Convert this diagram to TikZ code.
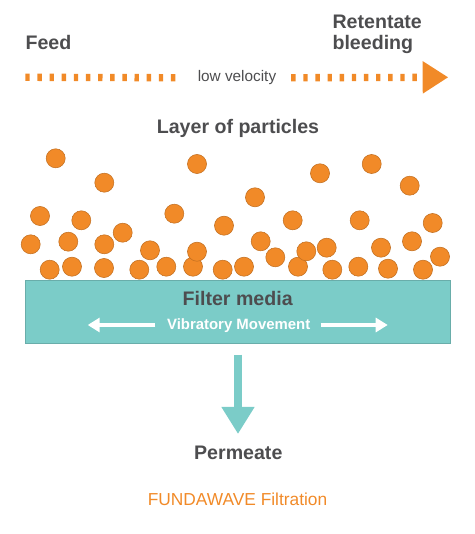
\documentclass[tikz,border=0pt]{standalone}
\usepackage{fontspec}
\setmainfont{Liberation Sans}
\usepackage{tikz}
\usetikzlibrary{arrows.meta}
\usetikzlibrary{positioning}
\definecolor{fundorange}{HTML}{F18A28}
\definecolor{fundteal}{HTML}{7BCCC8}
\definecolor{fundgray}{HTML}{4D4D4F}
\tikzset{
  particle/.style={circle,draw=fundorange!80!black,fill=fundorange,minimum size=14.3pt,inner sep=0pt,line width=0.4pt},
  headtext/.style={font=\fontsize{14.7pt}{17pt}\selectfont\bfseries,text=fundgray,inner sep=0pt},
  flowline/.style={draw=fundorange,line width=5.5pt,dash pattern=on 3.3pt off 5.8pt},
  shakeline/.style={draw=white,line width=2.6pt,-{Triangle[length=9pt,width=10.5pt]}}
}
\begin{document}
\begin{tikzpicture}[x=0.75pt,y=-0.75pt]
\useasboundingbox (0,0) rectangle (474,534);
\node[headtext,anchor=base west](feed) at (25.3,49.5){Feed};
\node[headtext,anchor=base west](reten) at (332.3,28.7){Retentate};
\node[headtext,anchor=base west](bleed) at (332.3,49.3){bleeding};
\node[font=\fontsize{11.5pt}{13pt}\selectfont,text=fundgray,inner sep=0pt,anchor=base](lowvel) at (237,81.7){low velocity};
\coordinate (feedstart) at (25.3,77.3);
\coordinate (retend) at (448.3,77.3);
\draw[flowline] (feedstart) -- ([xshift=-11pt]lowvel.west);
\draw[flowline,-{Triangle[length=19.2pt,width=23pt]}] ([xshift=11pt]lowvel.east) -- (retend);
\node[headtext,anchor=base](layer) at (238,134){Layer of particles};
\node[rectangle,draw=fundteal!85!black,fill=fundteal,minimum width=319pt,minimum height=47pt,inner sep=0pt](filter) at (238,312){};
\node[particle](p1) at (55.7,158.3){};
\node[particle](p2) at (197,164){};
\node[particle](p3) at (104.3,182.7){};
\node[particle](p4) at (320,173.3){};
\node[particle](p5) at (371.7,164){};
\node[particle](p6) at (409.7,185.7){};
\node[particle](p7) at (255,197.3){};
\node[particle](p8) at (40,216){};
\node[particle](p9) at (81.3,220.3){};
\node[particle](p10) at (174.3,213.7){};
\node[particle](p11) at (224,225.7){};
\node[particle](p12) at (292.7,220.3){};
\node[particle](p13) at (359.7,220.3){};
\node[particle](p14) at (432.7,223){};
\node[particle](p15) at (30.7,244.3){};
\node[particle](p16) at (68.3,241.7){};
\node[particle](p17) at (104.3,244.3){};
\node[particle](p18) at (122.7,232.7){};
\node[particle](p19) at (150,250.3){};
\node[particle](p20) at (260.7,241.3){};
\node[particle](p21) at (275.3,257.3){};
\node[particle](p22) at (326.7,247.7){};
\node[particle](p23) at (381,247.7){};
\node[particle](p24) at (412,241.3){};
\node[particle](p25) at (440,256.7){};
\node[particle](p26) at (49.7,269.7){};
\node[particle](p27) at (72,266.7){};
\node[particle](p28) at (104,268){};
\node[particle](p29) at (139.3,269.7){};
\node[particle](p30) at (166.3,266.7){};
\node[particle](p31) at (193,266.7){};
\node[particle](p32) at (197,251.7){};
\node[particle](p33) at (222.7,269.7){};
\node[particle](p34) at (244,266.7){};
\node[particle](p35) at (298,266.7){};
\node[particle](p36) at (306.3,251.3){};
\node[particle](p37) at (332.3,269.7){};
\node[particle](p38) at (358.3,266.7){};
\node[particle](p39) at (388,268.7){};
\node[particle](p40) at (423,269.7){};
\node[headtext,anchor=base](media) at (237.7,305.7){Filter media};
\node[font=\fontsize{11.2pt}{13pt}\selectfont\bfseries,text=white,inner sep=0pt,anchor=base](vib) at (238.7,329.3){Vibratory Movement};
\coordinate (vibleft) at (87.7,325);
\coordinate (vibright) at (387.7,325);
\draw[shakeline] ([xshift=-8.5pt]vib.west|-vibleft) -- (vibleft);
\draw[shakeline] ([xshift=7.5pt]vib.east|-vibright) -- (vibright);
\coordinate (permtip) at (238,434);
\node[headtext,anchor=base](perm) at (238.3,459){Permeate};
\draw[draw=fundteal,line width=5.5pt,-{Triangle[length=20.3pt,width=23.5pt]},shorten <=8.2pt] (filter.south) -- (permtip);
\node[font=\fontsize{13pt}{15pt}\selectfont,text=fundorange,inner sep=0pt,anchor=base](fund) at (237.5,505){FUNDAWAVE Filtration};
\end{tikzpicture}
\end{document}
